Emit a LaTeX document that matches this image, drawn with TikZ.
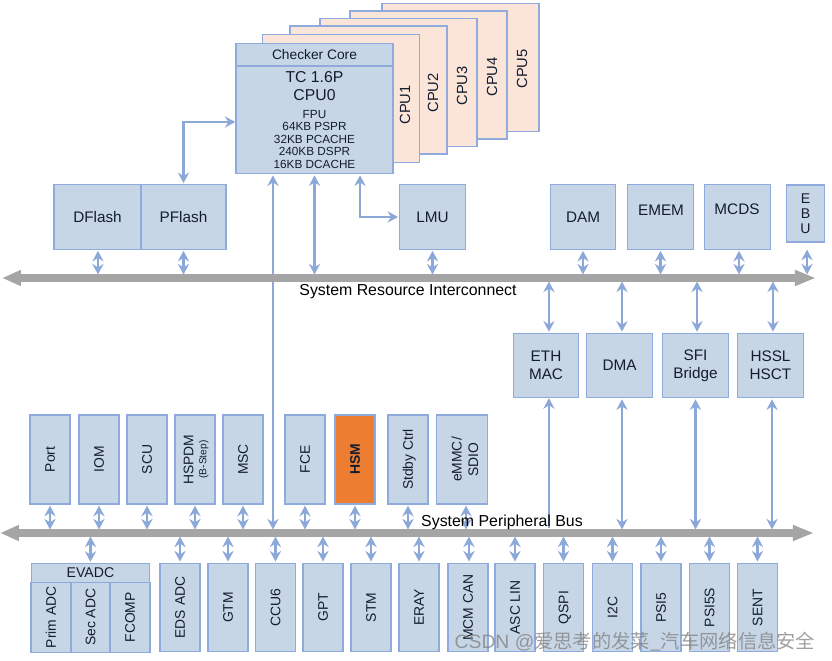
\documentclass[tikz,border=0pt]{standalone}
\usepackage{fontspec}
\setmainfont{Liberation Sans}
\newfontfamily\cjkfont{Noto Sans CJK SC}
\usetikzlibrary{arrows.meta}

\definecolor{cellfill}{HTML}{C7D6E6}
\definecolor{cellline}{HTML}{8FAADC}
\definecolor{cardfill}{HTML}{FBE5D8}
\definecolor{hsmfill}{HTML}{ED7D31}
\definecolor{busgray}{HTML}{A5A5A5}
\definecolor{linkblue}{HTML}{8CA8D8}
\definecolor{inkdark}{HTML}{141C2E}

\newcommand{\vt}[1]{\hspace*{2.6pt}\rotatebox{90}{\begin{tabular}{@{}c@{}}#1\end{tabular}}}
\newcommand{\tcsize}{\fontsize{13.4}{15}\selectfont}

\tikzset{
    x=0.85pt, y=-0.85pt,
    cell/.style={draw=cellline, fill=cellfill, line width=0.95pt, inner sep=0pt, text=inkdark, align=center, font=\fontsize{13}{15.5}\selectfont},
    square/.style={cell, minimum width=55.5pt, minimum height=54.6pt},
    upbox/.style={cell, minimum width=34pt, minimum height=75.6pt, font=\fontsize{11.8}{14}\selectfont},
    lowbox/.style={cell, minimum width=34pt, minimum height=75.2pt, font=\fontsize{11.8}{14}\selectfont},
    card/.style={draw=cellline, fill=cardfill, line width=1.2pt, minimum width=133.5pt, minimum height=109pt, inner sep=0pt},
    cardtext/.style={text=inkdark, inner sep=0pt, font=\fontsize{12.5}{15}\selectfont},
    buslabel/.style={text=black, inner sep=0pt, font=\fontsize{13.5}{16}\selectfont},
    bus/.style={draw=busgray, line width=6pt, {Triangle[length=16pt,width=12.5pt]}-{Triangle[length=18pt,width=12.5pt]}},
    link/.style={draw=linkblue, line width=1.8pt, {Stealth[length=9pt,width=9.5pt,inset=3pt]}-{Stealth[length=9pt,width=9.5pt,inset=3pt]}, shorten <=1pt, shorten >=3pt},
    uplink/.style={draw=linkblue, line width=1.8pt, {Stealth[length=9pt,width=9.5pt,inset=3pt]}-},
}

\begin{document}
\begin{tikzpicture}
    \useasboundingbox (0,0) rectangle (832,661);
    \fill[white] (0,0) rectangle (832,661);

    % core stack
    \node[card] (cpu5) at (460.5,67.5) {};
    \node[card] (cpu4) at (428.5,75) {};
    \node[card] (cpu3) at (398.5,82.5) {};
    \node[card] (cpu2) at (368.5,90) {};
    \node[card] (cpu1) at (341,98.5) {};
    \node[cardtext] (cpu5txt) at (522,69) {\vt{CPU5}};
    \node[cardtext] (cpu4txt) at (492,77) {\vt{CPU4}};
    \node[cardtext] (cpu3txt) at (462,86) {\vt{CPU3}};
    \node[cardtext] (cpu2txt) at (433,93) {\vt{CPU2}};
    \node[cardtext] (cpu1txt) at (405,105) {\vt{CPU1}};
    \node[cell, minimum width=133.5pt, minimum height=91pt, anchor=north, font=\fontsize{10}{10.6}\selectfont] (cpu0) at (314.5,66) {%
        {\tcsize TC 1.6P}\\[4.5pt]{\tcsize CPU0}\\[4.5pt]FPU\\64KB PSPR\\32KB PCACHE\\240KB DSPR\\16KB DCACHE};
    \node[cell, minimum width=133.5pt, minimum height=18.7pt, anchor=south, font=\fontsize{11.7}{14}\selectfont] (checker) at (314.5,66) {Checker Core};

    % memories and masters on the resource interconnect
    \node[square, minimum width=74pt] (dflash) at (97.5,217) {DFlash};
    \node[square, minimum width=72.2pt] (pflash) at (183.5,217) {PFlash};
    \node[square] (lmu) at (432.5,217) {LMU};
    \node[square] (dam) at (583,217) {DAM};
    \node[square] (emem) at (660.5,217) {};
    \node[square] (mcds) at (737.5,217) {};
    \node[cell, minimum width=33pt, minimum height=48.5pt] (ebu) at (805.5,213.5) {};

    % bridges
    \node[square] (eth) at (546,365.5) {ETH\\MAC};
    \node[square] (dma) at (619.5,365.5) {DMA};
    \node[square] (sfi) at (695.5,365.5) {SFI\\Bridge};
    \node[square] (hssl) at (770.5,365.5) {HSSL\\HSCT};

    % peripherals above the bus
    \node[upbox] (port) at (50,459.5) {\vt{Port}};
    \node[upbox] (iom) at (99,459.5) {\vt{IOM}};
    \node[upbox] (scu) at (147,459.5) {\vt{SCU}};
    \node[upbox] (hspdm) at (195,459.5) {\vt{HSPDM\\[-3pt]{\fontsize{8.7}{10}\selectfont (B-Step)}}};
    \node[upbox] (msc) at (243,459.5) {\vt{MSC}};
    \node[upbox] (fce) at (305,459.5) {\vt{FCE}};
    \node[upbox, fill=hsmfill, font=\fontsize{11.8}{14}\selectfont\bfseries] (hsm) at (355,459.5) {\vt{HSM}};
    \node[upbox] (stdby) at (408,459.5) {\vt{Stdby Ctrl}};
    \node[upbox, minimum width=44pt] (emmc) at (462,459.5) {\hspace*{5pt}\vt{eMMC/\\SDIO}};

    % peripherals below the bus
    \node[lowbox, minimum width=101pt, minimum height=16pt, anchor=north, font=\fontsize{12}{14}\selectfont] (evadc) at (90.5,563) {EVADC};
    \node[lowbox, minimum width=34pt, minimum height=59.2pt, anchor=north] (prim) at (51,582) {\vt{Prim ADC}};
    \node[lowbox, minimum width=33pt, minimum height=59.2pt, anchor=north] (sec) at (90.5,582) {\vt{Sec ADC}};
    \node[lowbox, minimum width=34pt, minimum height=59.2pt, anchor=north] (fcomp) at (130,582) {\vt{FCOMP}};
    \node[lowbox] (eds) at (180,607.5) {\vt{EDS ADC}};
    \node[lowbox] (gtm) at (228,607.5) {\vt{GTM}};
    \node[lowbox] (ccu) at (275.5,607.5) {\vt{CCU6}};
    \node[lowbox] (gpt) at (323,607.5) {\vt{GPT}};
    \node[lowbox] (stm) at (371,607.5) {\vt{STM}};
    \node[lowbox] (eray) at (419,607.5) {\vt{ERAY}};
    \node[lowbox] (mcm) at (468,607.5) {\vt{MCM CAN}};
    \node[lowbox] (asc) at (515,607.5) {\vt{ASC LIN}};
    \node[lowbox] (qspi) at (563.5,607.5) {\vt{QSPI}};
    \node[lowbox] (iic) at (612.5,607.5) {\vt{I2C}};
    \node[lowbox] (psi) at (661,607.5) {\vt{PSI5}};
    \node[lowbox] (psis) at (709.5,607.5) {\vt{PSI5S}};
    \node[lowbox] (sent) at (757.5,607.5) {\vt{SENT}};

    % the text in these three sits above centre
    \node[inner sep=0pt, text=inkdark, font=\fontsize{13}{15.5}\selectfont] (ememtxt) at (661,210) {EMEM};
    \node[inner sep=0pt, text=inkdark, font=\fontsize{13}{15.5}\selectfont] (mcdstxt) at (737,209) {MCDS};
    \node[inner sep=0pt, text=inkdark, align=center, font=\fontsize{12}{12.6}\selectfont] (ebutxt) at (805.5,214) {E\\B\\U};

    % links to the interconnect
    \coordinate (sri) at (2,278);
    \coordinate (srr) at (816,278);
    \coordinate (spb) at (0,533);
    \coordinate (spr) at (814,533);
    \coordinate (cpuin) at (236,122);

    \draw[link] ([xshift=0.4pt]dflash.south) -- ([xshift=0.4pt]dflash.south |- sri);
    \draw[link] (pflash.south) -- (pflash.south |- sri);
    \draw[link] (lmu.south) -- (lmu.south |- sri);
    \draw[link] (dam.south) -- (dam.south |- sri);
    \draw[link] (emem.south) -- (emem.south |- sri);
    \draw[link] ([xshift=1.3pt]mcds.south) -- ([xshift=1.3pt]mcds.south |- sri);
    \draw[link] ([xshift=1.3pt,yshift=-5pt]ebu.south) -- ([xshift=1.3pt]ebu.south |- sri);
    \draw[link] (cpu0.south) -- (cpu0.south |- sri);

    % links from the bridges
    \draw[link] ([xshift=2.5pt]eth.north) -- ([xshift=2.5pt]eth.north |- sri);
    \draw[link] ([xshift=2.1pt]dma.north) -- ([xshift=2.1pt]dma.north |- sri);
    \draw[link] ([xshift=1.3pt]sfi.north) -- ([xshift=1.3pt]sfi.north |- sri);
    \draw[link] ([xshift=2.1pt]hssl.north) -- ([xshift=2.1pt]hssl.north |- sri);
    \draw[uplink] ([xshift=2.5pt]eth.south) -- ([xshift=2.5pt,yshift=-110pt]eth.south);
    \draw[link] ([xshift=2.1pt]dma.south) -- ([xshift=2.1pt]dma.south |- spb);
    \draw[link] (sfi.south) -- (sfi.south |- spb);
    \draw[link] ([xshift=1.3pt]hssl.south) -- ([xshift=1.3pt]hssl.south |- spb);

    % core links
    \draw[link, shorten >=0.5pt] (pflash.north) |- (cpuin);
    \draw[link, shorten >=1pt] ([xshift=38.7pt]cpu0.south) |- (lmu.west);
    \draw[link] ([xshift=-35.3pt]cpu0.south) -- ([xshift=-35.3pt]cpu0.south |- spb);

    % links to the peripheral bus
    \draw[link] (port.south) -- (port.south |- spb);
    \draw[link] (iom.south) -- (iom.south |- spb);
    \draw[link] (scu.south) -- (scu.south |- spb);
    \draw[link] (hspdm.south) -- (hspdm.south |- spb);
    \draw[link] (msc.south) -- (msc.south |- spb);
    \draw[link] (fce.south) -- (fce.south |- spb);
    \draw[link] (hsm.south) -- (hsm.south |- spb);
    \draw[link] (stdby.south) -- (stdby.south |- spb);
    \draw[link] ([xshift=3.4pt]emmc.south) -- ([xshift=3.4pt]emmc.south |- spb);

    \draw[link] (evadc.north) -- (evadc.north |- spb);
    \draw[link] (eds.north) -- (eds.north |- spb);
    \draw[link] (gtm.north) -- (gtm.north |- spb);
    \draw[link] (ccu.north) -- (ccu.north |- spb);
    \draw[link] (gpt.north) -- (gpt.north |- spb);
    \draw[link] (stm.north) -- (stm.north |- spb);
    \draw[link] (eray.north) -- (eray.north |- spb);
    \draw[link] ([xshift=0.8pt]mcm.north) -- ([xshift=0.8pt]mcm.north |- spb);
    \draw[link] (asc.north) -- (asc.north |- spb);
    \draw[link] (qspi.north) -- (qspi.north |- spb);
    \draw[link] (iic.north) -- (iic.north |- spb);
    \draw[link] (psi.north) -- (psi.north |- spb);
    \draw[link] (psis.north) -- (psis.north |- spb);
    \draw[link] (sent.north) -- (sent.north |- spb);

    % the two buses
    \draw[bus] (sri) -- (srr);
    \draw[bus] (spb) -- (spr);
    \node[buslabel] (srilabel) at (408,292) {System Resource Interconnect};
    \node[buslabel] (spblabel) at (502,522) {System Peripheral Bus};

    \node[inner sep=0pt, text=gray, opacity=0.75, font=\fontsize{16.4}{18}\selectfont] (mark) at (635,642) {CSDN @{\cjkfont 爱思考的发菜\_汽车网络信息安全}};
\end{tikzpicture}
\end{document}
